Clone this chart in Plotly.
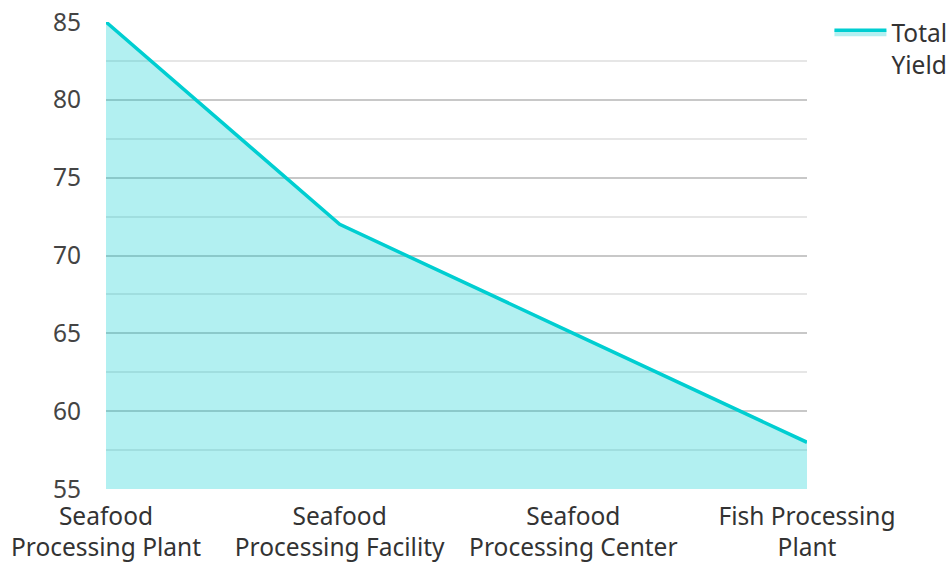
import plotly.graph_objects as go

categories = ["Seafood<br>Processing Plant", "Seafood<br>Processing Facility",
              "Seafood<br>Processing Center", "Fish Processing<br>Plant"]
total_yield = [85, 72, 65, 58]
series_name = "Total<br>Yield"

fig = go.Figure()
fig.add_trace(go.Scatter(
    x=categories, y=total_yield, name=series_name, mode="lines",
    line=dict(color="#00CED1", width=3.5),
    fill="tozeroy", fillcolor="rgba(0,206,209,0.3)",
))

fig.update_layout(
    width=949, height=562,
    margin=dict(l=106, r=142, t=22, b=73, autoexpand=False),
    paper_bgcolor="white", plot_bgcolor="white",
    font=dict(family="Noto Sans", size=24.5, color="#444"),
    showlegend=True,
    legend=dict(x=1.032, y=1.026, xanchor="left", yanchor="top", valign="top",
                itemwidth=52,
                font=dict(size=24.5, color="#333"), bgcolor="rgba(0,0,0,0)"),
    xaxis=dict(range=[0, 3], showgrid=False, zeroline=False, showline=False,
               ticks="", automargin=False, ticklabelstandoff=10,
               tickfont=dict(size=24.5, color="#333")),
    yaxis=dict(range=[55, 85], dtick=5, showgrid=True, gridcolor="#c8c8c8",
               gridwidth=1.5, zeroline=False, showline=False, automargin=False,
               tickfont=dict(size=24.5, color="#444"), ticklabelstandoff=24,
               minor=dict(dtick=2.5, showgrid=True, gridcolor="#e6e6e6", gridwidth=1.5)),
)

fig.write_html("out.html")
